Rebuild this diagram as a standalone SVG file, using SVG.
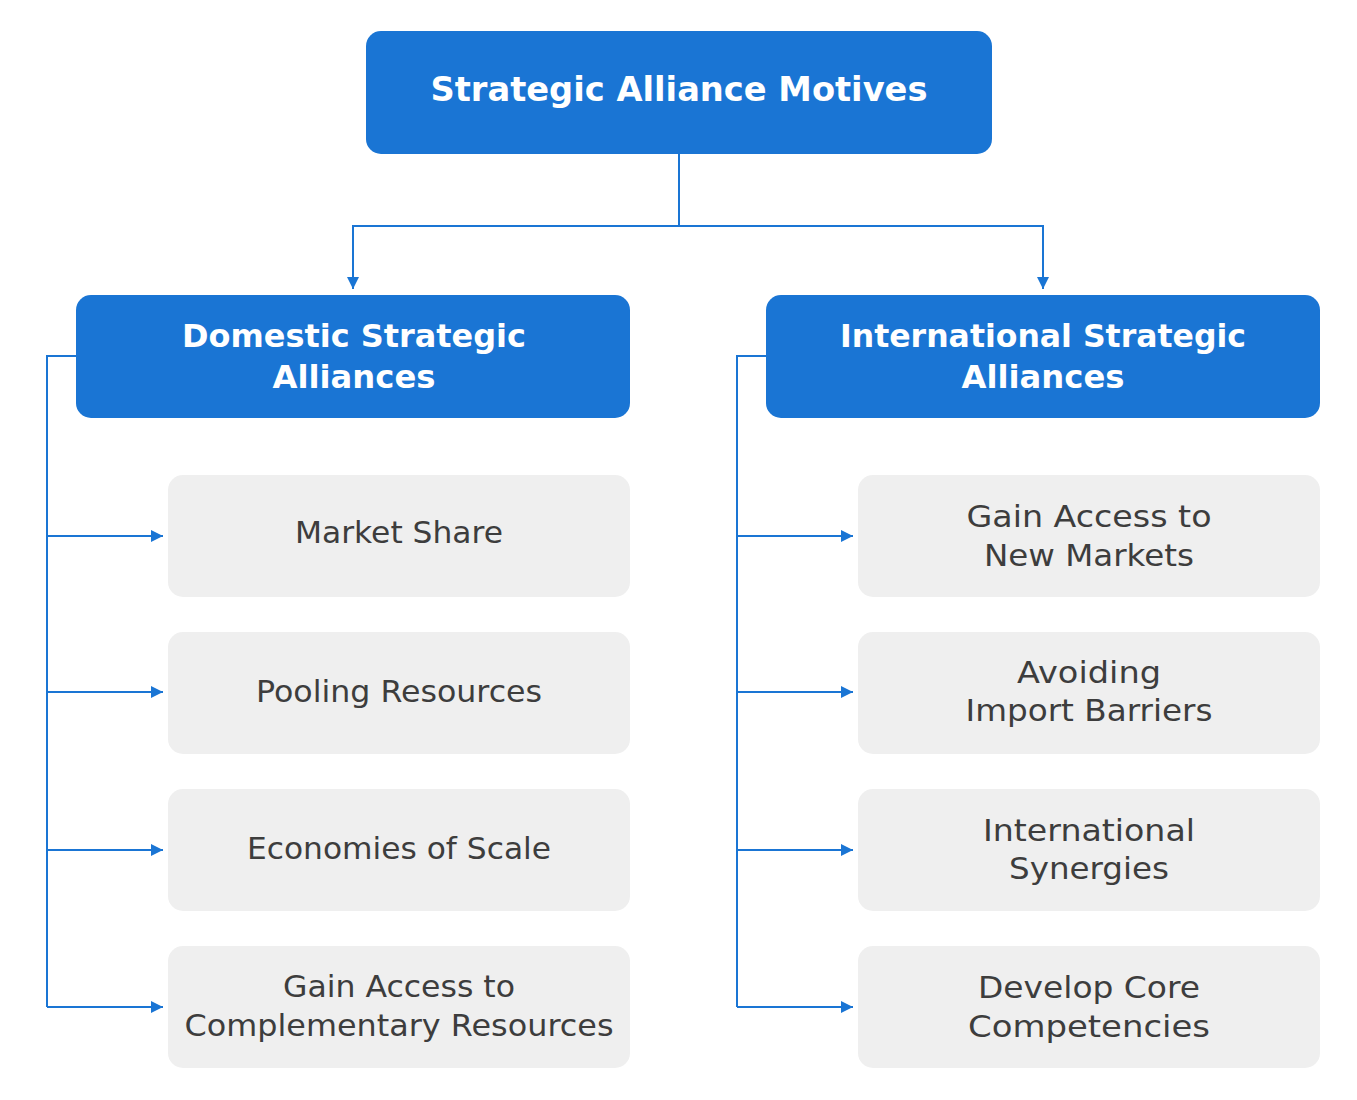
<svg xmlns="http://www.w3.org/2000/svg" width="1357" height="1100" viewBox="0 0 1357 1100">
<style>
.blue{fill:#1a75d4}
.grey{fill:#efefef}
.t1{font-family:"DejaVu Sans","Open Sans",sans-serif;font-weight:700;fill:#fff;text-anchor:middle}
.t2{font-family:"DejaVu Sans","Open Sans",sans-serif;font-weight:400;fill:#3d3d3d;text-anchor:middle;font-size:30px}
.c{fill:none;stroke:#1a75d4;stroke-width:2}
</style>
<defs>
<marker id="ah" viewBox="0 0 12 12" refX="12" refY="6" markerWidth="12" markerHeight="12" markerUnits="userSpaceOnUse" orient="auto">
<path d="M0,0 L12,6 L0,12 Z" fill="#1a75d4"/>
</marker>
</defs>
<rect width="1357" height="1100" fill="#fff"/>
<g id="connectors">
<path class="c" d="M679,154 V226 H353 V289" marker-end="url(#ah)"/>
<path class="c" d="M679,226 H1043 V289" marker-end="url(#ah)"/>
<path class="c" d="M76,356 H47 V1007"/>
<path class="c" d="M47,536 H163" marker-end="url(#ah)"/>
<path class="c" d="M47,692 H163" marker-end="url(#ah)"/>
<path class="c" d="M47,850 H163" marker-end="url(#ah)"/>
<path class="c" d="M47,1007 H163" marker-end="url(#ah)"/>
<path class="c" d="M766,356 H737 V1007"/>
<path class="c" d="M737,536 H853" marker-end="url(#ah)"/>
<path class="c" d="M737,692 H853" marker-end="url(#ah)"/>
<path class="c" d="M737,850 H853" marker-end="url(#ah)"/>
<path class="c" d="M737,1007 H853" marker-end="url(#ah)"/>
</g>
<g id="root">
<rect class="blue" x="366" y="31" width="626" height="123" rx="15"/>
<text class="t1" x="679" y="101" font-size="33" textLength="497" lengthAdjust="spacingAndGlyphs">Strategic Alliance Motives</text>
</g>
<g id="domestic">
<rect class="blue" x="76" y="295" width="554" height="123" rx="15"/>
<text class="t1" x="354" y="347" font-size="32" textLength="344" lengthAdjust="spacingAndGlyphs">Domestic Strategic</text>
<text class="t1" x="354" y="388" font-size="32" textLength="163" lengthAdjust="spacingAndGlyphs">Alliances</text>
</g>
<g id="international">
<rect class="blue" x="766" y="295" width="554" height="123" rx="15"/>
<text class="t1" x="1043" y="347" font-size="32" textLength="406" lengthAdjust="spacingAndGlyphs">International Strategic</text>
<text class="t1" x="1043" y="388" font-size="32" textLength="163" lengthAdjust="spacingAndGlyphs">Alliances</text>
</g>
<g id="market-share">
<rect class="grey" x="168" y="475" width="462" height="122" rx="15"/>
<text class="t2" x="399" y="543" textLength="208" lengthAdjust="spacingAndGlyphs">Market Share</text>
</g>
<g id="pooling-resources">
<rect class="grey" x="168" y="632" width="462" height="122" rx="15"/>
<text class="t2" x="399" y="702" textLength="286" lengthAdjust="spacingAndGlyphs">Pooling Resources</text>
</g>
<g id="economies-of-scale">
<rect class="grey" x="168" y="789" width="462" height="122" rx="15"/>
<text class="t2" x="399" y="859" textLength="304" lengthAdjust="spacingAndGlyphs">Economies of Scale</text>
</g>
<g id="complementary-resources">
<rect class="grey" x="168" y="946" width="462" height="122" rx="15"/>
<text class="t2" x="399" y="997" textLength="232" lengthAdjust="spacingAndGlyphs">Gain Access to</text>
<text class="t2" x="399" y="1036" textLength="429" lengthAdjust="spacingAndGlyphs">Complementary Resources</text>
</g>
<g id="new-markets">
<rect class="grey" x="858" y="475" width="462" height="122" rx="15"/>
<text class="t2" x="1089" y="527" textLength="245" lengthAdjust="spacingAndGlyphs">Gain Access to</text>
<text class="t2" x="1089" y="566" textLength="210" lengthAdjust="spacingAndGlyphs">New Markets</text>
</g>
<g id="import-barriers">
<rect class="grey" x="858" y="632" width="462" height="122" rx="15"/>
<text class="t2" x="1089" y="683" textLength="144" lengthAdjust="spacingAndGlyphs">Avoiding</text>
<text class="t2" x="1089" y="721" textLength="247" lengthAdjust="spacingAndGlyphs">Import Barriers</text>
</g>
<g id="synergies">
<rect class="grey" x="858" y="789" width="462" height="122" rx="15"/>
<text class="t2" x="1089" y="841" textLength="212" lengthAdjust="spacingAndGlyphs">International</text>
<text class="t2" x="1089" y="879" textLength="160" lengthAdjust="spacingAndGlyphs">Synergies</text>
</g>
<g id="core-competencies">
<rect class="grey" x="858" y="946" width="462" height="122" rx="15"/>
<text class="t2" x="1089" y="998" textLength="222" lengthAdjust="spacingAndGlyphs">Develop Core</text>
<text class="t2" x="1089" y="1037" textLength="242" lengthAdjust="spacingAndGlyphs">Competencies</text>
</g>
</svg>
